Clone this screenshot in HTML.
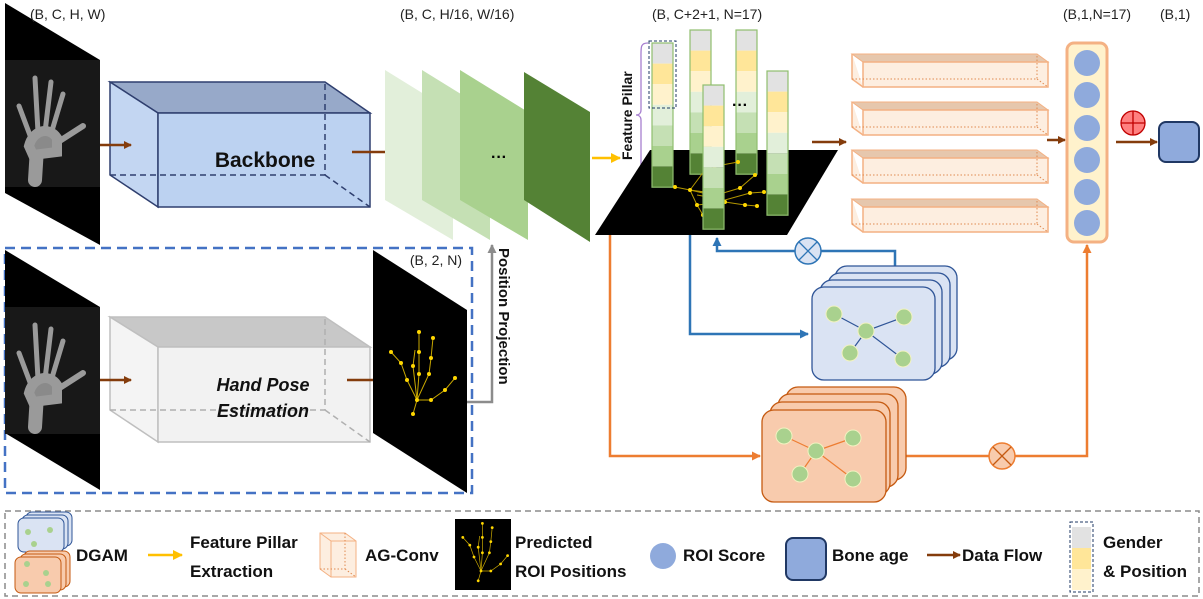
<!DOCTYPE html>
<html><head><meta charset="utf-8"><style>
html,body{margin:0;padding:0;background:#fff;}
svg{display:block;font-family:"Liberation Sans",sans-serif;}
</style></head><body>
<svg width="1203" height="599" viewBox="0 0 1203 599" xmlns="http://www.w3.org/2000/svg">
<defs>
<marker id="ab" markerWidth="8" markerHeight="8" refX="7" refY="4" orient="auto" markerUnits="userSpaceOnUse"><path d="M0,0 L8,4 L0,8 z" fill="#843c0c"/></marker>
<marker id="ay" markerWidth="10" markerHeight="10" refX="9" refY="5" orient="auto" markerUnits="userSpaceOnUse"><path d="M0,0 L10,5 L0,10 z" fill="#ffc000"/></marker>
<marker id="abl" markerWidth="9" markerHeight="9" refX="8" refY="4.5" orient="auto" markerUnits="userSpaceOnUse"><path d="M0,0 L9,4.5 L0,9 z" fill="#2e75b6"/></marker>
<marker id="ao" markerWidth="9" markerHeight="9" refX="8" refY="4.5" orient="auto" markerUnits="userSpaceOnUse"><path d="M0,0 L9,4.5 L0,9 z" fill="#ed7d31"/></marker>
<marker id="ag" markerWidth="9" markerHeight="9" refX="8" refY="4.5" orient="auto" markerUnits="userSpaceOnUse"><path d="M0,0 L9,4.5 L0,9 z" fill="#8c8c8c"/></marker>
<g id="hand">
<rect x="0" y="0" width="95" height="127" fill="#181818"/>
<g stroke="#9a9a9a" stroke-linecap="round" fill="none">
<path d="M30,120 L32,88" stroke-width="14"/>
<path d="M24,86 C28,70 44,66 52,78 L52,92 L28,95z" fill="#8a8a8a" stroke-width="10"/>
<path d="M26,78 L14,46" stroke-width="5"/>
<path d="M33,72 L30,18" stroke-width="5"/>
<path d="M40,72 L46,22" stroke-width="5"/>
<path d="M46,74 L58,34" stroke-width="5"/>
<path d="M50,84 L78,66" stroke-width="6"/>
</g>
</g>
<g id="skel" stroke="#c9a800" stroke-width="1" fill="none">
<path d="M0,0 L2,-26 L2,-48 L2,-68 M0,0 L-10,-20 L-16,-37 L-26,-48 M0,0 L12,-26 L14,-42 L16,-62 M0,0 L-4,-34 L-2,-50 M0,0 L14,0 L28,-10 L38,-22 M0,0 L-4,14"/>
<g fill="#ffd700" stroke="none"><circle r="2"/><circle cx="2" cy="-26" r="2"/><circle cx="2" cy="-48" r="2"/><circle cx="2" cy="-68" r="2"/><circle cx="-10" cy="-20" r="2"/><circle cx="-16" cy="-37" r="2"/><circle cx="-26" cy="-48" r="2"/><circle cx="12" cy="-26" r="2"/><circle cx="14" cy="-42" r="2"/><circle cx="16" cy="-62" r="2"/><circle cx="-4" cy="-34" r="2"/><circle cx="14" r="2"/><circle cx="28" cy="-10" r="2"/><circle cx="38" cy="-22" r="2"/><circle cx="-4" cy="14" r="2"/></g>
</g>
<g id="pillar">
<rect x="0" y="0" width="21" height="20.6" fill="#e2e2e2"/>
<rect x="0" y="20.6" width="21" height="20.6" fill="#ffe699"/>
<rect x="0" y="41.2" width="21" height="20.6" fill="#fff2cc"/>
<rect x="0" y="61.8" width="21" height="20.6" fill="#e2efda"/>
<rect x="0" y="82.4" width="21" height="20.6" fill="#c5e0b4"/>
<rect x="0" y="103" width="21" height="20.6" fill="#a9d18e"/>
<rect x="0" y="123.6" width="21" height="20.6" fill="#548235"/>
<rect x="0" y="0" width="21" height="144.2" fill="none" stroke="#8fbf6f" stroke-width="1.2"/>
</g>
<g id="bar">
<path d="M0,0 L185,0 L196,8 L11,8 z" fill="#e6c7ad" stroke="#f4b183"/>
<rect x="11" y="8" width="185" height="25" fill="#fdeee0" stroke="#f4b183" stroke-width="1.5"/>
<path d="M0,0 L0,25 L11,33" fill="#fdeee0" stroke="#f4b183" stroke-width="1.5"/>
<path d="M0,25 L185,25 L185,0 M185,25 L196,33" fill="none" stroke="#e08a50" stroke-dasharray="1.5,2"/>
</g>
</defs>

<!-- top x-ray -->
<path d="M5,3 L100,60 L100,245 L5,193 z" fill="#000"/>
<use href="#hand" x="5" y="60"/>
<text x="30" y="19" font-size="14" fill="#222">(B, C, H, W)</text>

<!-- backbone -->
<path d="M110,82 L325,82 L370,113 L158,113 z" fill="#97a9c9" stroke="#2f3f6f" stroke-width="1.5"/>
<path d="M110,82 L158,113 L158,207 L110,175 z" fill="#c3d6f2" stroke="#2f3f6f" stroke-width="1.5"/>
<rect x="158" y="113" width="212" height="94" fill="#bcd2f1" stroke="#2f3f6f" stroke-width="1.5"/>
<path d="M110,175 L325,175 L325,82 M325,175 L370,207" fill="none" stroke="#2f3f6f" stroke-width="1.5" stroke-dasharray="6,4"/>
<text x="265" y="167" font-size="21" font-weight="bold" text-anchor="middle" fill="#111">Backbone</text>
<line x1="100" y1="145" x2="131" y2="145" stroke="#843c0c" stroke-width="2.5" marker-end="url(#ab)"/>
<line x1="352" y1="152" x2="413" y2="152" stroke="#843c0c" stroke-width="2.5" marker-end="url(#ab)"/>

<!-- green planes -->
<text x="400" y="19" font-size="14" fill="#222">(B, C, H/16, W/16)</text>
<path d="M385,70 L453,112 L453,240 L385,200 z" fill="#e2efda"/>
<path d="M422,70 L490,112 L490,240 L422,200 z" fill="#c5e0b4"/>
<path d="M460,70 L528,112 L528,240 L460,200 z" fill="#a9d18e"/>
<path d="M524,72 L590,112 L590,242 L524,200 z" fill="#548235"/>
<text x="499" y="162" font-size="16" font-weight="bold" text-anchor="middle">···</text>

<!-- lower dashed box -->
<rect x="5" y="248" width="467" height="245" fill="none" stroke="#4472c4" stroke-width="2.5" stroke-dasharray="10,6"/>
<path d="M5,250 L100,307 L100,490 L5,433 z" fill="#000"/>
<use href="#hand" x="5" y="307"/>
<path d="M110,317 L325,317 L370,347 L158,347 z" fill="#c8c8c8" stroke="#bfbfbf" stroke-width="1.5"/>
<path d="M110,317 L158,347 L158,442 L110,410 z" fill="#f4f4f4" stroke="#bfbfbf" stroke-width="1.5"/>
<rect x="158" y="347" width="212" height="95" fill="#f2f2f2" stroke="#bfbfbf" stroke-width="1.5"/>
<path d="M110,410 L325,410 L325,317 M325,410 L370,442" fill="none" stroke="#b0b0b0" stroke-width="1.5" stroke-dasharray="6,4"/>
<text x="263" y="391" font-size="18" font-weight="bold" font-style="italic" text-anchor="middle" fill="#111">Hand Pose</text>
<text x="263" y="417" font-size="18" font-weight="bold" font-style="italic" text-anchor="middle" fill="#111">Estimation</text>
<line x1="100" y1="380" x2="131" y2="380" stroke="#843c0c" stroke-width="2.5" marker-end="url(#ab)"/>
<line x1="347" y1="380" x2="410" y2="380" stroke="#843c0c" stroke-width="2.5" marker-end="url(#ab)"/>
<path d="M373,250 L467,310 L467,493 L373,433 z" fill="#000"/>
<use href="#skel" x="417" y="400"/>
<text x="462" y="265" font-size="14" text-anchor="end" fill="#222">(B, 2, N)</text>
<polyline points="467,402 492,402 492,245" fill="none" stroke="#8c8c8c" stroke-width="2.5" marker-end="url(#ag)"/>
<text transform="translate(499,248) rotate(90)" font-size="15" font-weight="bold" fill="#111">Position Projection</text>

<!-- pillar stage -->
<text x="652" y="19" font-size="14" fill="#222">(B, C+2+1, N=17)</text>
<line x1="592" y1="158" x2="620" y2="158" stroke="#ffc000" stroke-width="2.5" marker-end="url(#ay)"/>
<text transform="translate(632,160) rotate(-90)" font-size="14" font-weight="bold" fill="#111">Feature Pillar</text>
<path d="M648,43 C640,43 641,47 641,60 L641,110 C641,114 638,115 636,115 C638,115 641,116 641,120 L641,172 C641,185 640,187 648,187" fill="none" stroke="#a77fd0" stroke-width="1.3"/>
<path d="M650,150 L838,150 L787,235 L595,235 z" fill="#000"/>
<use href="#pillar" x="652" y="43"/>
<use href="#pillar" x="690" y="30"/>
<use href="#pillar" x="736" y="30"/>
<use href="#pillar" x="767" y="71"/>
<g stroke="#b29600" stroke-width="1" fill="none">
<path d="M675,187 L690,190 L703,193 M690,190 L705,170 L722,165 L738,162 M690,190 L697,205 L703,215 M690,190 L720,194 L740,188 L755,175 M697,195 L725,200 L750,193 L764,192 M697,205 L725,202 L745,205 L757,206"/>
</g>
<g fill="#ffd700"><circle cx="675" cy="187" r="2"/><circle cx="690" cy="190" r="2"/><circle cx="697" cy="205" r="2"/><circle cx="703" cy="215" r="2"/><circle cx="722" cy="165" r="2"/><circle cx="738" cy="162" r="2"/><circle cx="740" cy="188" r="2"/><circle cx="755" cy="175" r="2"/><circle cx="750" cy="193" r="2"/><circle cx="764" cy="192" r="2"/><circle cx="745" cy="205" r="2"/><circle cx="757" cy="206" r="2"/><circle cx="725" cy="202" r="2"/></g>
<use href="#pillar" x="703" y="85"/>
<rect x="649" y="41" width="27" height="67" fill="none" stroke="#1f3864" stroke-width="1" stroke-dasharray="3,2"/>
<text x="740" y="110" font-size="16" font-weight="bold" text-anchor="middle">···</text>
<line x1="812" y1="142" x2="846" y2="142" stroke="#843c0c" stroke-width="2.5" marker-end="url(#ab)"/>

<!-- AG-conv bars -->
<use href="#bar" x="852" y="54"/>
<use href="#bar" x="852" y="102"/>
<use href="#bar" x="852" y="150"/>
<use href="#bar" x="852" y="199"/>
<line x1="1047" y1="140" x2="1065" y2="140" stroke="#843c0c" stroke-width="2.5" marker-end="url(#ab)"/>

<!-- score column -->
<text x="1063" y="19" font-size="14" fill="#222">(B,1,N=17)</text>
<text x="1160" y="19" font-size="14" fill="#222">(B,1)</text>
<rect x="1067" y="43" width="40" height="199" rx="7" fill="#fff2cc" stroke="#f4b183" stroke-width="3"/>
<g fill="#8faadc"><circle cx="1087" cy="63" r="13"/><circle cx="1087" cy="95" r="13"/><circle cx="1087" cy="128" r="13"/><circle cx="1087" cy="160" r="13"/><circle cx="1087" cy="192" r="13"/><circle cx="1087" cy="223" r="13"/></g>
<circle cx="1133" cy="123" r="12" fill="#ff8080" stroke="#c00000" stroke-width="1.3"/>
<path d="M1121,123 H1145 M1133,111 V135" stroke="#c00000" stroke-width="1.3"/>
<line x1="1116" y1="142" x2="1157" y2="142" stroke="#843c0c" stroke-width="2.5" marker-end="url(#ab)"/>
<rect x="1159" y="122" width="40" height="40" rx="7" fill="#8faadc" stroke="#203864" stroke-width="2"/>

<!-- blue DGAM -->
<polyline points="690,235 690,334 808,334" fill="none" stroke="#2e75b6" stroke-width="2.5" marker-end="url(#abl)"/>
<polyline points="895,266 895,251 717,251 717,238" fill="none" stroke="#2e75b6" stroke-width="2.5" marker-end="url(#abl)"/>
<circle cx="808" cy="251" r="13" fill="#dae3f3" stroke="#2e75b6" stroke-width="1.5"/>
<path d="M799,242 L817,260 M817,242 L799,260" stroke="#2e75b6" stroke-width="1.3"/>
<g fill="#dae3f3" stroke="#2f5597" stroke-width="1.3">
<rect x="835" y="266" width="122" height="94" rx="12"/>
<rect x="828" y="273" width="122" height="94" rx="12"/>
<rect x="820" y="280" width="122" height="94" rx="12"/>
<rect x="812" y="287" width="123" height="93" rx="12"/>
</g>
<g stroke="#2f5597" stroke-width="1.2"><path d="M866,331 L834,314 M866,331 L904,317 M866,331 L850,353 M866,331 L903,359"/></g>
<g fill="#a9d18e" stroke="#f2f2c0" stroke-width="1"><circle cx="866" cy="331" r="8"/><circle cx="834" cy="314" r="8"/><circle cx="904" cy="317" r="8"/><circle cx="850" cy="353" r="8"/><circle cx="903" cy="359" r="8"/></g>

<!-- orange DGAM -->
<polyline points="610,235 610,456 760,456" fill="none" stroke="#ed7d31" stroke-width="2.5" marker-end="url(#ao)"/>
<polyline points="906,456 1087,456 1087,245" fill="none" stroke="#ed7d31" stroke-width="2.5" marker-end="url(#ao)"/>
<circle cx="1002" cy="456" r="13" fill="#f8cbad" stroke="#ed7d31" stroke-width="1.5"/>
<path d="M993,447 L1011,465 M1011,447 L993,465" stroke="#c55a11" stroke-width="1.3"/>
<g fill="#f8cbad" stroke="#c55a11" stroke-width="1.3">
<rect x="786" y="387" width="120" height="93" rx="12"/>
<rect x="778" y="394" width="120" height="93" rx="12"/>
<rect x="770" y="402" width="120" height="93" rx="12"/>
<rect x="762" y="410" width="124" height="92" rx="12"/>
</g>
<g stroke="#ed7d31" stroke-width="1.2"><path d="M816,451 L784,436 M816,451 L853,438 M816,451 L800,474 M816,451 L853,479"/></g>
<g fill="#a9d18e" stroke="#f2f2c0" stroke-width="1"><circle cx="816" cy="451" r="8"/><circle cx="784" cy="436" r="8"/><circle cx="853" cy="438" r="8"/><circle cx="800" cy="474" r="8"/><circle cx="853" cy="479" r="8"/></g>

<!-- legend -->
<rect x="5" y="511" width="1194" height="85" fill="none" stroke="#8c8c8c" stroke-width="1.5" stroke-dasharray="6,4"/>
<g fill="#dae3f3" stroke="#2f5597">
<rect x="26" y="512" width="46" height="34" rx="6"/><rect x="22" y="515" width="46" height="34" rx="6"/><rect x="18" y="518" width="46" height="34" rx="6"/></g>
<g fill="#a9d18e"><circle cx="28" cy="532" r="3"/><circle cx="50" cy="530" r="3"/><circle cx="34" cy="544" r="3"/></g>
<g fill="#f8cbad" stroke="#c55a11">
<rect x="24" y="551" width="46" height="36" rx="6"/><rect x="20" y="554" width="46" height="36" rx="6"/><rect x="15" y="557" width="46" height="36" rx="6"/></g>
<g fill="#a9d18e"><circle cx="27" cy="564" r="3"/><circle cx="46" cy="573" r="3"/><circle cx="26" cy="584" r="3"/><circle cx="48" cy="584" r="3"/></g>
<g font-size="17" font-weight="bold" fill="#111">
<text x="76" y="561">DGAM</text>
<text x="190" y="548">Feature Pillar</text>
<text x="190" y="577">Extraction</text>
<text x="365" y="561">AG-Conv</text>
<text x="515" y="548">Predicted</text>
<text x="515" y="577">ROI Positions</text>
<text x="683" y="561">ROI Score</text>
<text x="832" y="561">Bone age</text>
<text x="962" y="561">Data Flow</text>
<text x="1103" y="548">Gender</text>
<text x="1103" y="577">&amp; Position</text>
</g>
<line x1="148" y1="555" x2="182" y2="555" stroke="#ffc000" stroke-width="2.5" marker-end="url(#ay)"/>
<path d="M320,533 L345,533 L356,541 L356,577 L331,577 L320,569 z" fill="#fdeee0" stroke="#f4b183"/>
<path d="M320,533 L331,541 L356,541 M331,541 L331,577" fill="none" stroke="#f4b183"/>
<path d="M320,569 L345,569 L345,533 M345,569 L356,577" fill="none" stroke="#e08a50" stroke-dasharray="1.5,2"/>
<rect x="455" y="519" width="56" height="71" fill="#000"/>
<g transform="translate(481,571) scale(0.7)"><use href="#skel"/></g>
<circle cx="663" cy="556" r="13" fill="#8faadc"/>
<rect x="786" y="538" width="40" height="42" rx="7" fill="#8faadc" stroke="#203864" stroke-width="2"/>
<line x1="927" y1="555" x2="960" y2="555" stroke="#843c0c" stroke-width="2.5" marker-end="url(#ab)"/>
<rect x="1072" y="527" width="19" height="21" fill="#e2e2e2"/>
<rect x="1072" y="548" width="19" height="21" fill="#ffe699"/>
<rect x="1072" y="569" width="19" height="21" fill="#fff2cc"/>
<rect x="1070" y="522" width="23" height="70" fill="none" stroke="#1f3864" stroke-dasharray="3,2"/>
</svg>
</body></html>
